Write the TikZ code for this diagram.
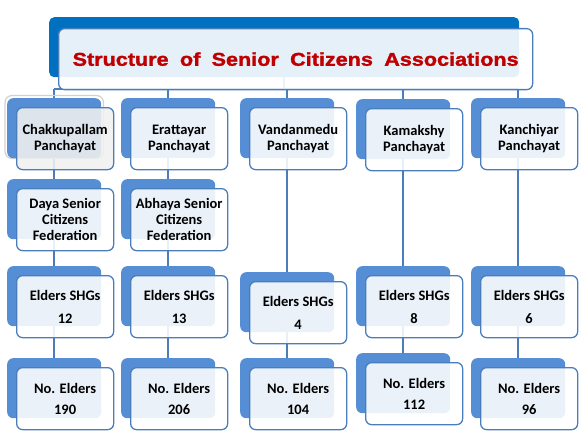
\documentclass[tikz,border=0pt]{standalone}
\usepackage{fontspec}
\setmainfont{Carlito}
\newfontfamily\titlefont[BoldFeatures={FakeBold=1.5}]{Liberation Sans}
\usepackage{graphicx}
\usetikzlibrary{backgrounds}
\definecolor{backblue}{HTML}{558ED5}
\definecolor{titleblue}{HTML}{0070C0}
\definecolor{borderblue}{HTML}{4A7EBB}
\definecolor{titlered}{HTML}{C00000}
\newcommand\twobox[5][]{%
  \node[backbox] (#2b) at (#3,#4) {};
  \node[frontbox,#1] (#2) at (#3+9,#4+9) {#5};
}
\begin{document}
\begin{tikzpicture}[x=1pt,y=-1pt,
  backbox/.style={anchor=north west, minimum width=94pt, minimum height=60pt, inner sep=0pt,
    rounded corners=6pt, fill=backblue, draw=none},
  frontbox/.style={anchor=north west, minimum width=97pt, minimum height=62pt, inner sep=0pt,
    rounded corners=6pt, draw=borderblue, line width=1.3pt, fill=white, fill opacity=0.88,
    text opacity=1, align=center, font=\bfseries\fontsize{14.5}{16}\selectfont},
  conn/.style={draw=borderblue, line width=1.8pt}]
\useasboundingbox (0,0) rectangle (584,444);
% title
\node[anchor=north west, minimum width=470pt, minimum height=60pt, inner sep=0pt,
  fill=titleblue, rounded corners=5pt] (tb) at (49,17) {};
\node[anchor=north west, minimum width=474pt, minimum height=61pt, inner sep=0pt,
  draw=borderblue, line width=1.3pt, fill=white, fill opacity=0.9, text opacity=1,
  rounded corners=6pt, text=titlered,
  font=\titlefont\bfseries\fontsize{18.5}{22}\selectfont] (title) at (58,28)
  {\resizebox{446pt}{\height}{Structure\hspace{9.7pt}of\hspace{9.7pt}Senior\hspace{9.7pt}Citizens\hspace{9.7pt}Associations}};
% highlight outline of first box
\draw[black!18, line width=1.2pt, rounded corners=7pt] (5,95.5) rectangle (103.5,158.5);
% row 1
\twobox[fill=black!6]{c1r1}{7}{98}{Chakkupallam\\Panchayat}
\twobox{c2r1}{121}{98}{Erattayar\\Panchayat}
\twobox{c3r1}{240}{98}{Vandanmedu\\Panchayat}
\twobox{c4r1}{356}{99}{Kamakshy\\Panchayat}
\twobox{c5r1}{471}{98}{Kanchiyar\\Panchayat}
% row 2
\twobox{c1r2}{7}{179}{Daya Senior\\Citizens\\Federation}
\twobox{c2r2}{121}{179}{Abhaya Senior\\Citizens\\Federation}
% row 3
\twobox{c1r3}{7}{266}{Elders SHGs\\[7pt]12}
\twobox{c2r3}{121}{266}{Elders SHGs\\[7pt]13}
\twobox{c3r3}{240}{272}{Elders SHGs\\[7pt]4}
\twobox{c4r3}{356}{266}{Elders SHGs\\[7pt]8}
\twobox{c5r3}{471}{266}{Elders SHGs\\[7pt]6}
% row 4
\twobox{c1r4}{7}{358}{No. Elders\\[5pt]190}
\twobox{c2r4}{121}{358}{No. Elders\\[5pt]206}
\twobox{c3r4}{240}{358}{No. Elders\\[5pt]104}
\twobox{c4r4}{356}{353}{No. Elders\\[5pt]112}
\twobox{c5r4}{471}{358}{No. Elders\\[5pt]96}
% connectors
\begin{scope}[on background layer]
  \coordinate (bus) at (0,89);
  \draw[conn] (tb.center) -- (tb.center |- bus);
  \draw[conn] (c1r1b.center |- bus) -- (c5r1b.center |- bus);
  \foreach \c in {1,...,5} {
    \draw[conn] (c\c r1b.center |- bus) -- (c\c r1b.center);
    \draw[conn] (c\c r1b.center) -- (c\c r4b.center);
  }
\end{scope}
\end{tikzpicture}
\end{document}
